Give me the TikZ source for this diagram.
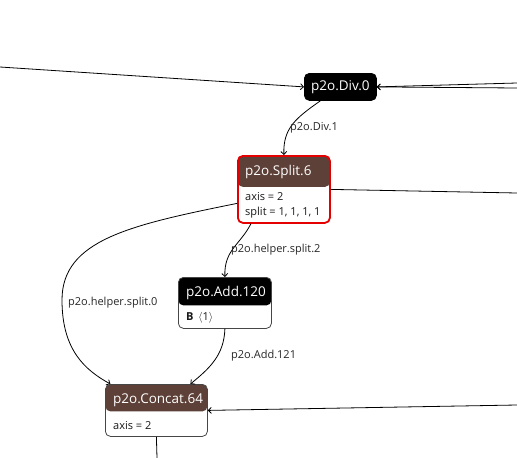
\documentclass[tikz,border=0pt]{standalone}
\usepackage{fontspec}
\setmainfont{Open Sans}
\usetikzlibrary{arrows.meta}
\definecolor{opbrown}{RGB}{93,64,55}
\definecolor{opred}{RGB}{228,0,0}
\definecolor{opborder}{RGB}{70,70,70}

\begin{document}
\begin{tikzpicture}[x=1pt, y=-1pt,
    every node/.style={font=\fontsize{11}{13}\selectfont, inner sep=0pt},
    opbox/.style={draw=opborder, line width=0.8pt, rounded corners=5pt, fill=white, anchor=north west},
    headfill/.style 2 args={path picture={\fill[#1] (path picture bounding box.north west) rectangle ([yshift=-#2pt]path picture bounding box.north east);}},
    ophead/.style={text=white, font=\fontsize{13.5}{15}\selectfont, anchor=west},
    opattr/.style={text=black!90, anchor=west},
    edgelabel/.style={text=black!85, anchor=west},
    edge/.style={draw=black, line width=0.8pt, -{Straight Barb[length=3pt,width=6pt]}}
  ]
  \useasboundingbox (0,0) rectangle (517,458);

  % operator boxes
  \node[opbox, fill=black, draw=black, minimum width=72pt, minimum height=27pt, text=white, font=\fontsize{13.5}{15}\selectfont] (div) at (304,73) {p2o.Div.0};

  \node[opbox, draw=opred, line width=1.8pt, minimum width=92pt, minimum height=67pt, headfill={opbrown}{31}] (split) at (237,155) {};
  \node[ophead] (splitname) at ([xshift=8pt, yshift=-17pt]split.north west) {p2o.Split.6};
  \node[opattr] (splitaxis) at ([xshift=8pt, yshift=-42pt]split.north west) {axis = 2};
  \node[opattr] (splitsplit) at ([xshift=8pt, yshift=-58pt]split.north west) {split = 1, 1, 1, 1};

  \node[opbox, minimum width=93pt, minimum height=51pt, headfill={black}{28}] (add) at (178,277) {};
  \node[ophead] (addname) at ([xshift=8pt, yshift=-16pt]add.north west) {p2o.Add.120};
  \node[opattr] (addb) at ([xshift=8pt, yshift=-41pt]add.north west) {\textbf{B}\, $\langle$1$\rangle$};

  \node[opbox, minimum width=102pt, minimum height=52pt, headfill={opbrown}{27}] (concat) at (105,384) {};
  \node[ophead] (concatname) at ([xshift=8pt, yshift=-16pt]concat.north west) {p2o.Concat.64};
  \node[opattr] (concataxis) at ([xshift=8pt, yshift=-42pt]concat.north west) {axis = 2};

  % loose ends
  \coordinate (divinleft) at (0,67);
  \coordinate (divinright1) at (517,83);
  \coordinate (divinright2) at (517,88);
  \coordinate (splitout) at (517,193);
  \coordinate (concatin) at (517,405);
  \coordinate (concatout) at (157,458);

  % edges
  \draw[edge] (divinleft) -- (div.west);
  \draw[edge] (divinright1) -- (div.east);
  \draw[edge] (divinright2) -- (div.east);
  \draw[edge] ([xshift=-20pt]div.south) .. controls (296,118) and (283,128) .. (split.north);
  \node[edgelabel] (divlabel) at (290,128) {p2o.Div.1};

  \draw[edge] ([xshift=-33pt]split.south) .. controls (240,245) and (224,250) .. (add.north);
  \node[edgelabel] (split2label) at (231,250) {p2o.helper.split.2};

  \draw[edge] ([yshift=-14pt]split.west) .. controls (130,225) and (62,240) .. (62,300)
    .. controls (62,350) and (85,370) .. ([xshift=-46pt]concat.north);
  \node[edgelabel] (split0label) at (68,303) {p2o.helper.split.0};

  \draw[edge] (add.south) .. controls (224,355) and (210,368) .. ([xshift=34pt]concat.north);
  \node[edgelabel] (add121label) at (231,356) {p2o.Add.121};

  \draw[line width=0.8pt] (split.east) -- (splitout);
  \draw[edge] (concatin) -- (concat.east);
  \draw[line width=0.8pt] (concat.south) -- (concatout);
\end{tikzpicture}
\end{document}
